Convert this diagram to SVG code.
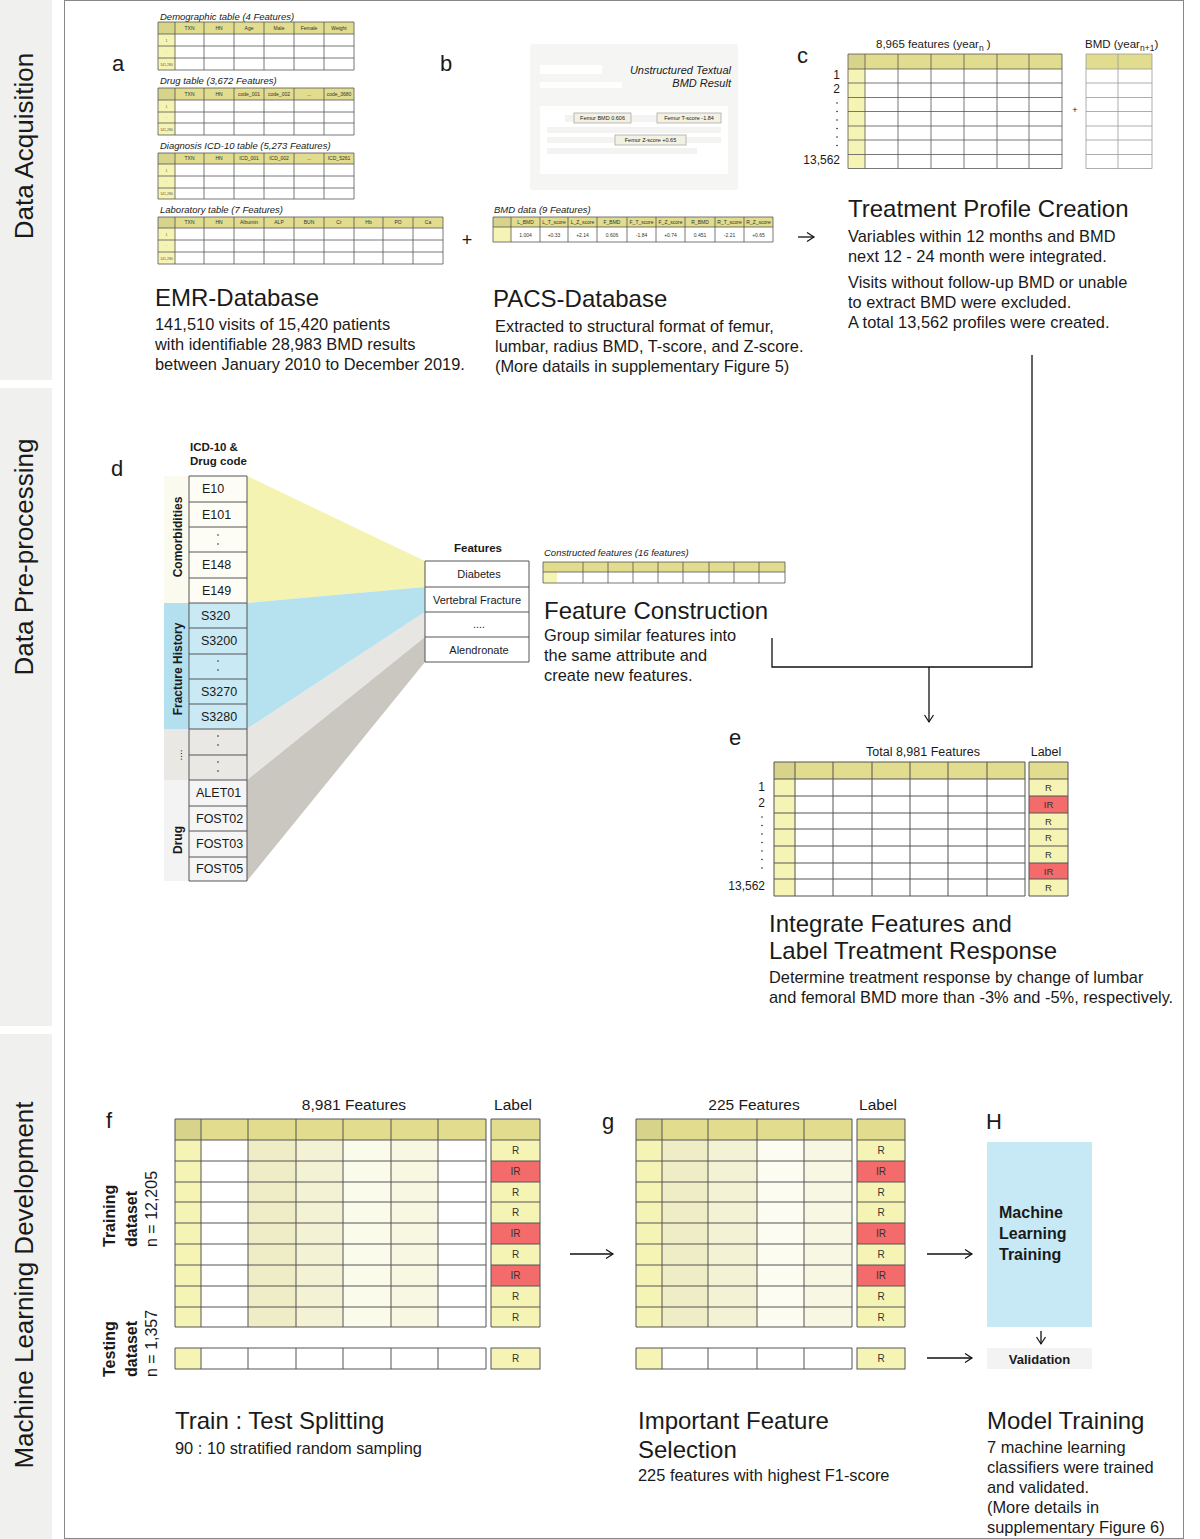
<svg xmlns="http://www.w3.org/2000/svg" width="1200" height="1539" viewBox="0 0 1200 1539">
<style>
text{font-family:"Liberation Sans",Arial,Helvetica,sans-serif;fill:#1a1a1a}
.ttl{font-size:24px}
.body{font-size:16.4px}
.let{font-size:22px}
.side{font-size:26px;text-anchor:middle}
.band{fill:#f0f0ee}
.cap{font-size:9.5px;font-style:italic}
.t5{font-size:5px;text-anchor:middle;fill:#333}
.t35{font-size:3.5px;text-anchor:middle;fill:#555}
.hd{fill:#e1dc8e}
.hd0{fill:#d8d38a}
.c0{fill:#f6f4b4}
.ir{fill:#f46b6b}
.wh{fill:#fff}
.grid{stroke:#555;stroke-width:0.8;fill:none}
.gridl{stroke:#999;stroke-width:0.8;fill:none}
.grid1{stroke:#555;stroke-width:1;fill:none}
.rl{font-size:9.5px;text-anchor:middle;fill:#333}
.rlf{font-size:10px;text-anchor:middle;fill:#333}
.code{font-size:12.5px}
.feat{font-size:11px;text-anchor:middle}
.catl{font-size:12px;font-weight:bold;text-anchor:middle}
.num{font-size:12px;text-anchor:end}
.dot{fill:#222}
.conn{stroke:#111;stroke-width:1.3;fill:none}
</style>
<defs>
<marker id="ah" markerWidth="12" markerHeight="12" refX="10" refY="6" orient="auto" markerUnits="userSpaceOnUse">
<path d="M3,1.5 L10,6 L3,10.5" fill="none" stroke="#111" stroke-width="1.2"/>
</marker>
</defs>
<rect x="0" y="0" width="1200" height="1539" fill="#fff"/>

<!-- sidebar -->
<g id="sidebar">
<rect class="band" x="0" y="0" width="52" height="380"/>
<rect class="band" x="0" y="388" width="52" height="638"/>
<rect class="band" x="0" y="1034" width="52" height="505"/>
<text class="side" transform="translate(33,146) rotate(-90)">Data Acquisition</text>
<text class="side" transform="translate(33,557) rotate(-90)">Data Pre-processing</text>
<text class="side" transform="translate(33,1285) rotate(-90)">Machine Learning Development</text>
</g>
<rect x="64.5" y="0.5" width="1119" height="1538" fill="none" stroke="#888" stroke-width="1"/>

<!-- Panel a -->
<g id="panel-a">
<text class="let" x="112" y="71">a</text>
<g id="demographic-table">
<text class="cap" x="160" y="19.5">Demographic table (4 Features)</text>
<rect class="hd" x="158" y="22" width="196" height="12"/>
<rect class="hd0" x="158" y="22" width="17" height="12"/>
<rect class="c0" x="158" y="34" width="17" height="36"/>
<rect class="wh" x="175" y="34" width="179" height="36"/>
<path class="grid" d="M158,22H354V70H158Z M175,22V70 M204,22V70 M234,22V70 M264,22V70 M294,22V70 M324,22V70 M158,34H354 M158,46H354 M158,58H354"/>
<text class="t5" x="189.5" y="29.8">TXN</text><text class="t5" x="219" y="29.8">HN</text><text class="t5" x="249" y="29.8">Age</text><text class="t5" x="279" y="29.8">Male</text><text class="t5" x="309" y="29.8">Female</text><text class="t5" x="339" y="29.8">Weight</text>
<text class="t35" x="166.5" y="41.5">1</text><text class="t35" x="166.5" y="53.5">·</text><text class="t35" x="166.5" y="65.5">141,280</text>
</g>
<g id="drug-table">
<text class="cap" x="160" y="84">Drug table (3,672 Features)</text>
<rect class="hd" x="158" y="88" width="196" height="12"/>
<rect class="hd0" x="158" y="88" width="17" height="12"/>
<rect class="c0" x="158" y="100" width="17" height="35"/>
<rect class="wh" x="175" y="100" width="179" height="35"/>
<path class="grid" d="M158,88H354V135H158Z M175,88V135 M204,88V135 M234,88V135 M264,88V135 M294,88V135 M324,88V135 M158,100H354 M158,112H354 M158,123H354"/>
<text class="t5" x="189.5" y="95.8">TXN</text><text class="t5" x="219" y="95.8">HN</text><text class="t5" x="249" y="95.8">code_001</text><text class="t5" x="279" y="95.8">code_002</text><text class="t5" x="309" y="95.8">...</text><text class="t5" x="339" y="95.8">code_3680</text>
<text class="t35" x="166.5" y="107.5">1</text><text class="t35" x="166.5" y="119">·</text><text class="t35" x="166.5" y="130.5">141,280</text>
</g>
<g id="diagnosis-table">
<text class="cap" x="160" y="149">Diagnosis ICD-10 table (5,273 Features)</text>
<rect class="hd" x="158" y="153" width="196" height="11"/>
<rect class="hd0" x="158" y="153" width="17" height="11"/>
<rect class="c0" x="158" y="164" width="17" height="35"/>
<rect class="wh" x="175" y="164" width="179" height="35"/>
<path class="grid" d="M158,153H354V199H158Z M175,153V199 M204,153V199 M234,153V199 M264,153V199 M294,153V199 M324,153V199 M158,164H354 M158,176H354 M158,188H354"/>
<text class="t5" x="189.5" y="160.3">TXN</text><text class="t5" x="219" y="160.3">HN</text><text class="t5" x="249" y="160.3">ICD_001</text><text class="t5" x="279" y="160.3">ICD_002</text><text class="t5" x="309" y="160.3">...</text><text class="t5" x="339" y="160.3">ICD_5261</text>
<text class="t35" x="166.5" y="171.5">1</text><text class="t35" x="166.5" y="183">·</text><text class="t35" x="166.5" y="194.5">141,280</text>
</g>
<g id="laboratory-table">
<text class="cap" x="160" y="213">Laboratory table (7 Features)</text>
<rect class="hd" x="158" y="217" width="285" height="11"/>
<rect class="hd0" x="158" y="217" width="17" height="11"/>
<rect class="c0" x="158" y="228" width="17" height="36"/>
<rect class="wh" x="175" y="228" width="268" height="36"/>
<path class="grid" d="M158,217H443V264H158Z M175,217V264 M204,217V264 M234,217V264 M264,217V264 M294,217V264 M324,217V264 M354,217V264 M383,217V264 M413,217V264 M158,228H443 M158,240H443 M158,252H443"/>
<text class="t5" x="189.5" y="224.3">TXN</text><text class="t5" x="219" y="224.3">HN</text><text class="t5" x="249" y="224.3">Albumin</text><text class="t5" x="279" y="224.3">ALP</text><text class="t5" x="309" y="224.3">BUN</text><text class="t5" x="339" y="224.3">Cr</text><text class="t5" x="368.5" y="224.3">Hb</text><text class="t5" x="398" y="224.3">PO</text><text class="t5" x="428" y="224.3">Ca</text>
<text class="t35" x="166.5" y="235.5">1</text><text class="t35" x="166.5" y="247">·</text><text class="t35" x="166.5" y="259.5">141,280</text>
</g>
<text x="467" y="246" font-size="18" text-anchor="middle">+</text>
<text class="ttl" x="155" y="306">EMR-Database</text>
<text class="body" x="155" y="330">141,510 visits of 15,420 patients</text>
<text class="body" x="155" y="350">with identifiable 28,983 BMD results</text>
<text class="body" x="155" y="370">between January 2010 to December 2019.</text>
</g>

<!-- Panel b -->
<g id="panel-b">
<text class="let" x="440" y="71">b</text>
<g id="bmd-report">
<rect x="530" y="44" width="208" height="146" rx="3" fill="#f5f5f4"/>
<rect x="540" y="65" width="62" height="9" fill="#fff"/>
<rect x="540" y="82" width="82" height="6" fill="#fff"/>
<text x="731" y="74" font-size="11" font-style="italic" text-anchor="end">Unstructured Textual</text>
<text x="731" y="87" font-size="11" font-style="italic" text-anchor="end">BMD Result</text>
<rect x="540" y="106" width="188" height="68" fill="#fff"/>
<rect x="565" y="115" width="156" height="7" fill="#f3f3f2"/>
<rect x="547" y="127" width="174" height="6" fill="#f3f3f2"/>
<rect x="547" y="137" width="174" height="6" fill="#f3f3f2"/>
<rect x="547" y="148" width="150" height="6" fill="#f3f3f2"/>
<rect x="574" y="113" width="57" height="10" fill="#f3f1e2" stroke="#aaa" stroke-width="0.8"/>
<text x="602.5" y="120" font-size="5.5" text-anchor="middle" fill="#333">Femur BMD 0.606</text>
<rect x="657" y="113" width="64" height="10" fill="#f3f1e2" stroke="#aaa" stroke-width="0.8"/>
<text x="689" y="120" font-size="5.5" text-anchor="middle" fill="#333">Femur T-score -1.84</text>
<rect x="615" y="135" width="71" height="10" fill="#f3f1e2" stroke="#aaa" stroke-width="0.8"/>
<text x="650.5" y="142" font-size="5.5" text-anchor="middle" fill="#333">Femur Z-score +0.65</text>
</g>
<g id="bmd-table">
<text class="cap" x="494" y="213">BMD data (9 Features)</text>
<rect class="hd" x="493" y="217" width="280" height="10"/>
<rect class="hd0" x="493" y="217" width="18" height="10"/>
<rect class="c0" x="493" y="227" width="18" height="15"/>
<rect class="wh" x="511" y="227" width="262" height="15"/>
<path class="grid" d="M493,217H773V242H493Z M511,217V242 M540,217V242 M568,217V242 M597,217V242 M627,217V242 M656,217V242 M685,217V242 M715,217V242 M744,217V242 M493,227H773"/>
<text class="t5" x="525.5" y="223.8">L_BMD</text><text class="t5" x="554" y="223.8">L_T_score</text><text class="t5" x="582.5" y="223.8">L_Z_score</text><text class="t5" x="612" y="223.8">F_BMD</text><text class="t5" x="641.5" y="223.8">F_T_score</text><text class="t5" x="670.5" y="223.8">F_Z_score</text><text class="t5" x="700" y="223.8">R_BMD</text><text class="t5" x="729.5" y="223.8">R_T_score</text><text class="t5" x="758.5" y="223.8">R_Z_score</text>
<text class="t5" x="525.5" y="236.5">1.004</text><text class="t5" x="554" y="236.5">+0.33</text><text class="t5" x="582.5" y="236.5">+2.14</text><text class="t5" x="612" y="236.5">0.606</text><text class="t5" x="641.5" y="236.5">-1.84</text><text class="t5" x="670.5" y="236.5">+0.74</text><text class="t5" x="700" y="236.5">0.451</text><text class="t5" x="729.5" y="236.5">-2.21</text><text class="t5" x="758.5" y="236.5">+0.65</text>
</g>
<text class="ttl" x="493" y="307">PACS-Database</text>
<text class="body" x="495" y="332">Extracted to structural format of femur,</text>
<text class="body" x="495" y="352">lumbar, radius BMD, T-score, and Z-score.</text>
<text class="body" x="495" y="372">(More datails in supplementary Figure 5)</text>
</g>

<!-- Panel c -->
<g id="panel-c">
<text class="let" x="797" y="63">c</text>
<text x="876" y="48" font-size="11.5">8,965 features  (year<tspan font-size="8.5" dy="3">n</tspan><tspan dy="-3"> )</tspan></text>
<text x="1085" y="48" font-size="11.5">BMD (year<tspan font-size="8.5" dy="3">n+1</tspan><tspan dy="-3">)</tspan></text>
<g id="profile-table">
<rect class="hd" x="848" y="54" width="214" height="15"/>
<rect class="hd0" x="848" y="54" width="17" height="15"/>
<rect class="c0" x="848" y="69" width="17" height="99.5"/>
<rect class="wh" x="865" y="69" width="197" height="99.5"/>
<path class="grid" d="M848,54H1062V168.5H848Z M865,54V168.5 M898,54V168.5 M931,54V168.5 M964,54V168.5 M997,54V168.5 M1029,54V168.5 M848,69H1062 M848,83H1062 M848,97.5H1062 M848,111.5H1062 M848,126H1062 M848,140H1062 M848,154.5H1062"/>
<text class="num" x="840" y="79">1</text>
<text class="num" x="840" y="93">2</text>
<circle class="dot" cx="837" cy="103" r="0.8"/><circle class="dot" cx="837" cy="111.5" r="0.8"/><circle class="dot" cx="837" cy="120" r="0.8"/><circle class="dot" cx="837" cy="128.5" r="0.8"/><circle class="dot" cx="837" cy="137" r="0.8"/><circle class="dot" cx="837" cy="145.5" r="0.8"/>
<text class="num" x="840" y="164">13,562</text>
</g>
<text x="1075" y="113" font-size="9" text-anchor="middle">+</text>
<g id="bmd-next-table">
<rect class="hd" x="1086" y="54" width="66" height="15"/>
<rect class="wh" x="1086" y="69" width="66" height="99.5"/>
<path class="gridl" d="M1086,54H1152V168.5H1086Z M1118,54V168.5 M1086,69H1152 M1086,83H1152 M1086,97.5H1152 M1086,111.5H1152 M1086,126H1152 M1086,140H1152 M1086,154.5H1152"/>
</g>
<text class="ttl" x="848" y="217">Treatment Profile Creation</text>
<text class="body" x="848" y="242">Variables within 12 months and BMD</text>
<text class="body" x="848" y="262">next 12 - 24 month were integrated.</text>
<text class="body" x="848" y="288">Visits without follow-up BMD or unable</text>
<text class="body" x="848" y="308">to extract BMD were excluded.</text>
<text class="body" x="848" y="328">A total 13,562 profiles were created.</text>
</g>

<!-- Panel d -->
<g id="panel-d">
<text class="let" x="111" y="476">d</text>
<text x="190" y="451" font-size="11.5" font-weight="bold">ICD-10 &amp;</text>
<text x="190" y="465" font-size="11.5" font-weight="bold">Drug code</text>
<g id="funnels">
<polygon points="247,476 425,561 425,587 247,603" fill="#f4f3b1"/>
<polygon points="247,603 425,587 425,612 247,729" fill="#b6e1ef"/>
<polygon points="247,729 425,612 425,637 247,780" fill="#e7e6e2"/>
<polygon points="247,780 425,637 425,662 247,881" fill="#c9c7bf"/>
</g>
<g id="category-bands">
<rect x="164" y="476" width="25" height="127" fill="#fafaee"/>
<rect x="164" y="603" width="25" height="126" fill="#b3dfee"/>
<rect x="164" y="729" width="25" height="51" fill="#e9e8e4"/>
<rect x="164" y="780" width="25" height="101" fill="#f3f3f3"/>
<text class="catl" transform="translate(182,537) rotate(-90)">Comorbidities</text>
<text class="catl" transform="translate(182,669) rotate(-90)">Fracture History</text>
<text transform="translate(182,755) rotate(-90)" font-size="10" text-anchor="middle">....</text>
<text class="catl" transform="translate(182,840) rotate(-90)">Drug</text>
</g>
<g id="code-column">
<rect x="189" y="476" width="58" height="127" fill="#fdfdf6"/>
<rect x="189" y="603" width="58" height="126" fill="#c9e9f4"/>
<rect x="189" y="729" width="58" height="51" fill="#e9e8e4"/>
<rect x="189" y="780" width="58" height="101" fill="#f5f5f5"/>
<path class="grid1" d="M189,476H247V881H189Z M189,502H247 M189,527H247 M189,552H247 M189,578H247 M189,603H247 M189,628H247 M189,654H247 M189,679H247 M189,704H247 M189,729H247 M189,755H247 M189,780H247 M189,806H247 M189,831H247 M189,857H247"/>
<text class="code" x="202" y="493">E10</text>
<text class="code" x="202" y="518.5">E101</text>
<circle class="dot" cx="218" cy="535" r="0.8"/><circle class="dot" cx="218" cy="544" r="0.8"/>
<text class="code" x="202" y="569">E148</text>
<text class="code" x="202" y="594.5">E149</text>
<text class="code" x="201" y="619.5">S320</text>
<text class="code" x="201" y="645">S3200</text>
<circle class="dot" cx="218" cy="661" r="0.8"/><circle class="dot" cx="218" cy="670" r="0.8"/>
<text class="code" x="201" y="696">S3270</text>
<text class="code" x="201" y="721">S3280</text>
<circle class="dot" cx="218" cy="736" r="0.8"/><circle class="dot" cx="218" cy="745" r="0.8"/>
<circle class="dot" cx="218" cy="762" r="0.8"/><circle class="dot" cx="218" cy="771" r="0.8"/>
<text class="code" x="196" y="797">ALET01</text>
<text class="code" x="196" y="822.5">FOST02</text>
<text class="code" x="196" y="848">FOST03</text>
<text class="code" x="196" y="873">FOST05</text>
</g>
<g id="features-table">
<text x="478" y="552" font-size="11.5" font-weight="bold" text-anchor="middle">Features</text>
<rect x="425" y="561" width="104" height="101" fill="#fff"/>
<path class="grid1" d="M425,561H529V662H425Z M425,587H529 M425,612H529 M425,637H529"/>
<text class="feat" x="479" y="578">Diabetes</text>
<text class="feat" x="477" y="603.5">Vertebral Fracture</text>
<text class="feat" x="479" y="628">....</text>
<text class="feat" x="479" y="654">Alendronate</text>
</g>
<g id="constructed-table">
<text class="cap" x="544" y="556" font-size="9">Constructed features (16 features)</text>
<rect class="hd" x="543" y="562" width="242" height="10"/>
<rect class="wh" x="543" y="572" width="242" height="11"/>
<rect class="c0" x="543" y="572" width="14" height="11"/>
<path class="grid" d="M543,562H785V583H543Z M583,562V583 M608,562V583 M633,562V583 M658,562V583 M683,562V583 M709,562V583 M734,562V583 M759,562V583 M543,572H785"/>
</g>
<text class="ttl" x="544" y="619">Feature Construction</text>
<text class="body" x="544" y="641">Group similar features into</text>
<text class="body" x="544" y="661">the same attribute and</text>
<text class="body" x="544" y="681">create new features.</text>
</g>

<!-- Panel e -->
<g id="panel-e">
<text class="let" x="729" y="745">e</text>
<text x="923" y="756" font-size="12.5" text-anchor="middle">Total 8,981 Features</text>
<text x="1046" y="756" font-size="12.5" text-anchor="middle">Label</text>
<g id="integrated-table">
<rect class="hd" x="774" y="762" width="251" height="17"/>
<rect class="hd0" x="774" y="762" width="21" height="17"/>
<rect class="c0" x="774" y="779" width="21" height="117"/>
<rect class="wh" x="795" y="779" width="230" height="117"/>
<path class="grid1" d="M774,762H1025V896H774Z M795,762V896 M833,762V896 M872,762V896 M910,762V896 M948,762V896 M987,762V896 M774,779H1025 M774,796H1025 M774,813H1025 M774,829H1025 M774,846H1025 M774,863H1025 M774,879H1025"/>
<text class="num" x="765" y="791">1</text>
<text class="num" x="765" y="807">2</text>
<circle class="dot" cx="762" cy="817" r="0.8"/><circle class="dot" cx="762" cy="825.5" r="0.8"/><circle class="dot" cx="762" cy="834" r="0.8"/><circle class="dot" cx="762" cy="842.5" r="0.8"/><circle class="dot" cx="762" cy="851" r="0.8"/><circle class="dot" cx="762" cy="859.5" r="0.8"/><circle class="dot" cx="762" cy="868" r="0.8"/>
<text class="num" x="765" y="890">13,562</text>
</g>
<g id="label-column-e">
<rect class="hd" x="1029" y="762" width="39" height="17"/>
<rect class="c0" x="1029" y="779" width="39" height="117"/>
<rect class="ir" x="1029" y="796" width="39" height="17"/>
<rect class="ir" x="1029" y="863" width="39" height="16"/>
<path class="grid1" d="M1029,762H1068V896H1029Z M1029,779H1068 M1029,796H1068 M1029,813H1068 M1029,829H1068 M1029,846H1068 M1029,863H1068 M1029,879H1068"/>
<text class="rl" x="1048.5" y="791">R</text>
<text class="rl" x="1048.5" y="808">IR</text>
<text class="rl" x="1048.5" y="824.5">R</text>
<text class="rl" x="1048.5" y="841">R</text>
<text class="rl" x="1048.5" y="858">R</text>
<text class="rl" x="1048.5" y="874.5">IR</text>
<text class="rl" x="1048.5" y="891">R</text>
</g>
<text class="ttl" x="769" y="932">Integrate Features and</text>
<text class="ttl" x="769" y="959">Label Treatment Response</text>
<text class="body" x="769" y="983">Determine treatment response by change of lumbar</text>
<text class="body" x="769" y="1003">and femoral BMD more than -3% and -5%, respectively.</text>
</g>

<!-- Panel f -->
<g id="panel-f">
<text class="let" x="106" y="1128">f</text>
<text x="354" y="1110" font-size="15.5" text-anchor="middle">8,981 Features</text>
<text x="513" y="1110" font-size="15.5" text-anchor="middle">Label</text>
<g id="train-table-f">
<rect class="hd" x="175" y="1119" width="311" height="21"/>
<rect class="hd0" x="175" y="1119" width="26" height="21"/>
<rect class="c0" x="175" y="1140" width="26" height="187"/>
<rect class="wh" x="201" y="1140" width="47" height="187"/>
<rect x="248" y="1140" width="48" height="187" fill="#efedc6"/>
<rect x="296" y="1140" width="47" height="187" fill="#f3f2d4"/>
<rect x="343" y="1140" width="48" height="187" fill="#fbfbec"/>
<rect x="391" y="1140" width="47" height="187" fill="#f8f7e2"/>
<rect class="wh" x="438" y="1140" width="48" height="187"/>
<path class="grid1" d="M175,1119H486V1327H175Z M201,1119V1327 M248,1119V1327 M296,1119V1327 M343,1119V1327 M391,1119V1327 M438,1119V1327 M175,1140H486 M175,1161H486 M175,1182H486 M175,1202H486 M175,1223H486 M175,1244H486 M175,1265H486 M175,1286H486 M175,1307H486"/>
</g>
<g id="train-labels-f">
<rect class="hd" x="491" y="1119" width="49" height="21"/>
<rect class="c0" x="491" y="1140" width="49" height="187"/>
<rect class="ir" x="491" y="1161" width="49" height="21"/>
<rect class="ir" x="491" y="1223" width="49" height="21"/>
<rect class="ir" x="491" y="1265" width="49" height="21"/>
<path class="grid1" d="M491,1119H540V1327H491Z M491,1140H540 M491,1161H540 M491,1182H540 M491,1202H540 M491,1223H540 M491,1244H540 M491,1265H540 M491,1286H540 M491,1307H540"/>
<text class="rlf" x="515.5" y="1154">R</text>
<text class="rlf" x="515.5" y="1175">IR</text>
<text class="rlf" x="515.5" y="1196">R</text>
<text class="rlf" x="515.5" y="1216">R</text>
<text class="rlf" x="515.5" y="1237">IR</text>
<text class="rlf" x="515.5" y="1258">R</text>
<text class="rlf" x="515.5" y="1279">IR</text>
<text class="rlf" x="515.5" y="1300">R</text>
<text class="rlf" x="515.5" y="1321">R</text>
</g>
<g id="test-table-f">
<rect class="c0" x="175" y="1348" width="26" height="21"/>
<rect class="wh" x="201" y="1348" width="285" height="21"/>
<path class="grid1" d="M175,1348H486V1369H175Z M201,1348V1369 M248,1348V1369 M296,1348V1369 M343,1348V1369 M391,1348V1369 M438,1348V1369"/>
<rect class="c0" x="491" y="1348" width="49" height="21" stroke="#555" stroke-width="1"/>
<text class="rlf" x="515.5" y="1362">R</text>
</g>
<text transform="translate(115,1247) rotate(-90)" font-size="16" font-weight="bold">Training</text>
<text transform="translate(137,1247) rotate(-90)" font-size="16" font-weight="bold">dataset</text>
<text transform="translate(157,1247) rotate(-90)" font-size="16">n = 12,205</text>
<text transform="translate(115,1377) rotate(-90)" font-size="16" font-weight="bold">Testing</text>
<text transform="translate(137,1377) rotate(-90)" font-size="16" font-weight="bold">dataset</text>
<text transform="translate(157,1377) rotate(-90)" font-size="16">n = 1,357</text>
<text class="ttl" x="175" y="1429">Train : Test Splitting</text>
<text class="body" x="175" y="1454">90 : 10 stratified random sampling</text>
</g>

<!-- Panel g -->
<g id="panel-g">
<text class="let" x="602" y="1129">g</text>
<text x="754" y="1110" font-size="15.5" text-anchor="middle">225 Features</text>
<text x="878" y="1110" font-size="15.5" text-anchor="middle">Label</text>
<g id="train-table-g">
<rect class="hd" x="636" y="1119" width="216" height="21"/>
<rect class="hd0" x="636" y="1119" width="26" height="21"/>
<rect class="c0" x="636" y="1140" width="26" height="187"/>
<rect x="662" y="1140" width="46" height="187" fill="#efedc6"/>
<rect x="708" y="1140" width="49" height="187" fill="#f3f2d4"/>
<rect x="757" y="1140" width="47" height="187" fill="#fcfcf0"/>
<rect x="804" y="1140" width="48" height="187" fill="#f8f7e4"/>
<path class="grid1" d="M636,1119H852V1327H636Z M662,1119V1327 M708,1119V1327 M757,1119V1327 M804,1119V1327 M636,1140H852 M636,1161H852 M636,1182H852 M636,1202H852 M636,1223H852 M636,1244H852 M636,1265H852 M636,1286H852 M636,1307H852"/>
</g>
<g id="train-labels-g">
<rect class="hd" x="857" y="1119" width="48" height="21"/>
<rect class="c0" x="857" y="1140" width="48" height="187"/>
<rect class="ir" x="857" y="1161" width="48" height="21"/>
<rect class="ir" x="857" y="1223" width="48" height="21"/>
<rect class="ir" x="857" y="1265" width="48" height="21"/>
<path class="grid1" d="M857,1119H905V1327H857Z M857,1140H905 M857,1161H905 M857,1182H905 M857,1202H905 M857,1223H905 M857,1244H905 M857,1265H905 M857,1286H905 M857,1307H905"/>
<text class="rlf" x="881" y="1154">R</text>
<text class="rlf" x="881" y="1175">IR</text>
<text class="rlf" x="881" y="1196">R</text>
<text class="rlf" x="881" y="1216">R</text>
<text class="rlf" x="881" y="1237">IR</text>
<text class="rlf" x="881" y="1258">R</text>
<text class="rlf" x="881" y="1279">IR</text>
<text class="rlf" x="881" y="1300">R</text>
<text class="rlf" x="881" y="1321">R</text>
</g>
<g id="test-table-g">
<rect class="c0" x="636" y="1348" width="26" height="21"/>
<rect class="wh" x="662" y="1348" width="190" height="21"/>
<path class="grid1" d="M636,1348H852V1369H636Z M662,1348V1369 M708,1348V1369 M757,1348V1369 M804,1348V1369"/>
<rect class="c0" x="857" y="1348" width="48" height="21" stroke="#555" stroke-width="1"/>
<text class="rlf" x="881" y="1362">R</text>
</g>
<text class="ttl" x="638" y="1429">Important Feature</text>
<text class="ttl" x="638" y="1458">Selection</text>
<text class="body" x="638" y="1481">225 features with highest F1-score</text>
</g>

<!-- Panel H -->
<g id="panel-h">
<text class="let" x="986" y="1129">H</text>
<g id="ml-training">
<rect x="987" y="1142" width="105" height="185" fill="#c6e9f5"/>
<text x="999" y="1218" font-size="16" font-weight="bold">Machine</text>
<text x="999" y="1239" font-size="16" font-weight="bold">Learning</text>
<text x="999" y="1260" font-size="16" font-weight="bold">Training</text>
</g>
<g id="validation">
<rect x="987" y="1348" width="105" height="21" fill="#f3f3f3"/>
<text x="1039.5" y="1364" font-size="13" font-weight="bold" text-anchor="middle">Validation</text>
</g>
<text class="ttl" x="987" y="1429">Model Training</text>
<text class="body" x="987" y="1453">7 machine learning</text>
<text class="body" x="987" y="1473">classifiers were trained</text>
<text class="body" x="987" y="1493">and validated.</text>
<text class="body" x="987" y="1513">(More details in</text>
<text class="body" x="987" y="1533">supplementary Figure 6)</text>
</g>

<!-- Connectors -->
<g id="connectors">
<path class="conn" d="M798,237H814" marker-end="url(#ah)"/>
<path class="conn" d="M1032,355V667H772V638"/>
<path class="conn" d="M929,667V722" marker-end="url(#ah)"/>
<path class="conn" d="M570,1254H613" marker-end="url(#ah)"/>
<path class="conn" d="M927,1254H972" marker-end="url(#ah)"/>
<path class="conn" d="M927,1358H972" marker-end="url(#ah)"/>
<path class="conn" d="M1041,1331V1344" marker-end="url(#ah)"/>
</g>
</svg>
